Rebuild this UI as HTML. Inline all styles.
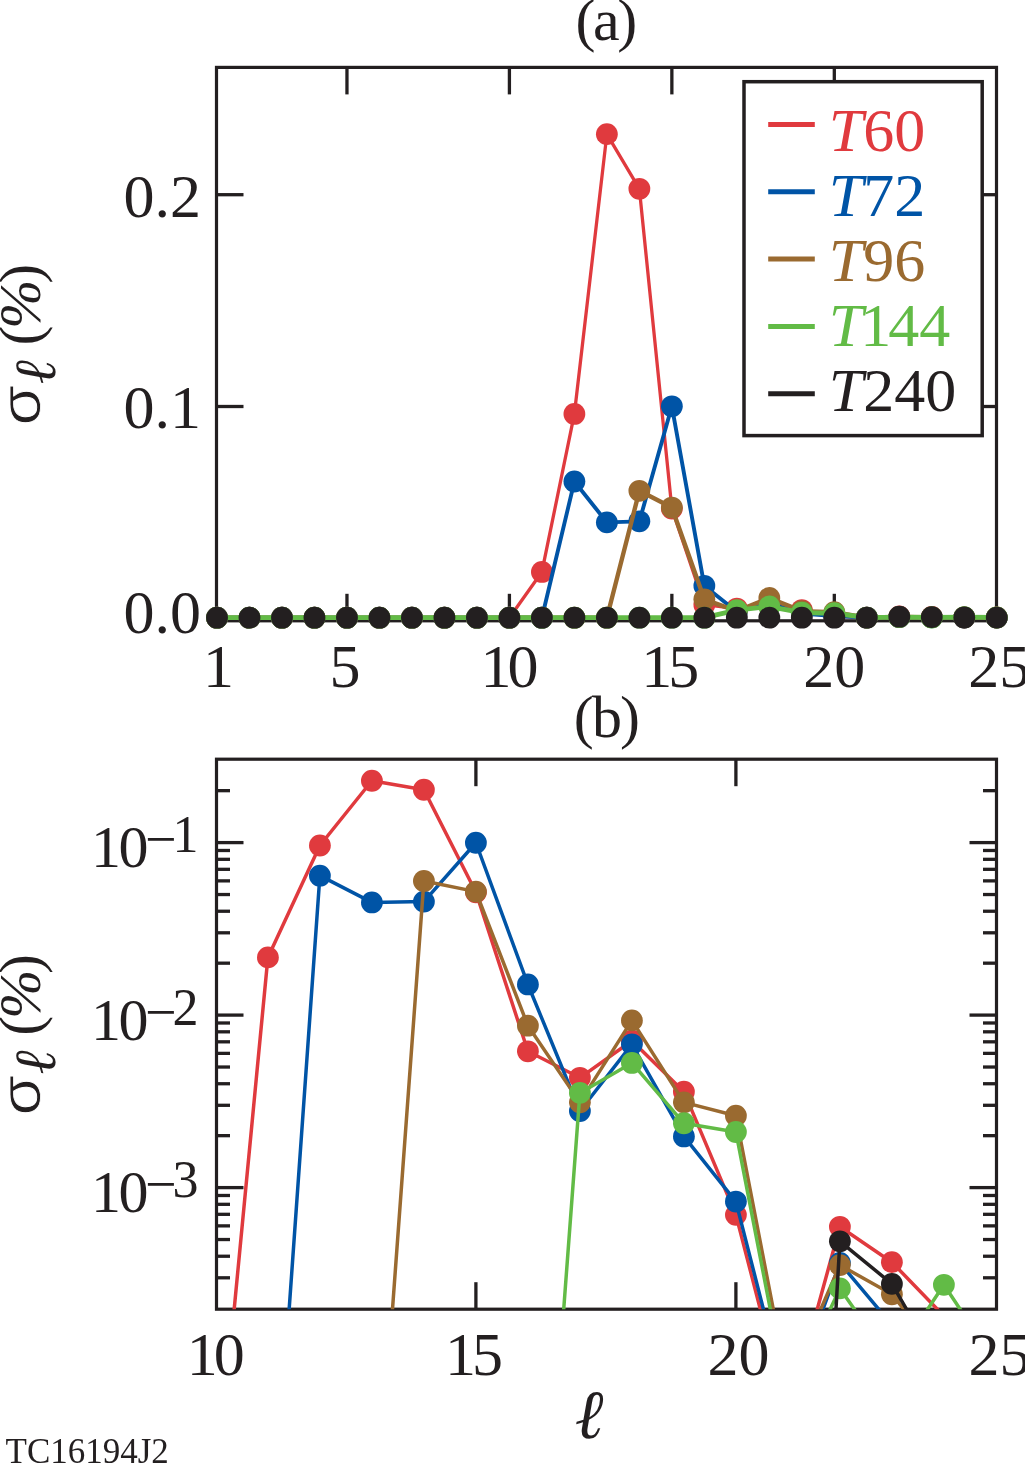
<!DOCTYPE html>
<html lang="en"><head><meta charset="utf-8"><title>TC16194J2</title>
<style>
html,body{margin:0;padding:0;background:#fff;}
svg{display:block;}
text{font-family:"Liberation Serif","DejaVu Serif",serif;fill:#231f20;}
.t{font-size:60px;}
.d{font-size:62px;}
.i{font-style:italic;}
</style></head><body>
<svg width="1025" height="1464" viewBox="0 0 1025 1464">
<defs>
<clipPath id="cb"><rect x="216.5" y="759.2" width="780.0" height="550.0"/></clipPath>
</defs>
<rect width="1025" height="1464" fill="#fff"/>

<g id="panel-a">
<rect x="216.5" y="67.4" width="780.0" height="553.4" fill="none" stroke="#231f20" stroke-width="3.2"/>
<line x1="346.96" y1="67.40" x2="346.96" y2="94.40" stroke="#231f20" stroke-width="3.3"/>
<line x1="346.96" y1="620.80" x2="346.96" y2="593.80" stroke="#231f20" stroke-width="3.3"/>
<line x1="509.41" y1="67.40" x2="509.41" y2="94.40" stroke="#231f20" stroke-width="3.3"/>
<line x1="509.41" y1="620.80" x2="509.41" y2="593.80" stroke="#231f20" stroke-width="3.3"/>
<line x1="671.86" y1="67.40" x2="671.86" y2="94.40" stroke="#231f20" stroke-width="3.3"/>
<line x1="671.86" y1="620.80" x2="671.86" y2="593.80" stroke="#231f20" stroke-width="3.3"/>
<line x1="834.31" y1="67.40" x2="834.31" y2="94.40" stroke="#231f20" stroke-width="3.3"/>
<line x1="834.31" y1="620.80" x2="834.31" y2="593.80" stroke="#231f20" stroke-width="3.3"/>
<line x1="216.50" y1="406.50" x2="243.50" y2="406.50" stroke="#231f20" stroke-width="3.3"/>
<line x1="996.50" y1="406.50" x2="969.50" y2="406.50" stroke="#231f20" stroke-width="3.3"/>
<line x1="216.50" y1="194.70" x2="243.50" y2="194.70" stroke="#231f20" stroke-width="3.3"/>
<line x1="996.50" y1="194.70" x2="969.50" y2="194.70" stroke="#231f20" stroke-width="3.3"/>
<polyline points="217.00,617.70 249.49,617.70 281.98,617.70 314.47,617.70 346.96,617.70 379.45,617.70 411.94,617.70 444.43,617.70 476.92,617.70 509.41,617.70 541.90,571.95 574.39,413.95 606.88,134.16 639.37,188.81 671.86,508.62 704.35,604.63 736.84,608.53 769.33,602.66 801.82,610.08 834.31,616.23 866.80,617.60 899.29,616.44 931.78,616.92 964.27,617.32 996.76,617.51" fill="none" stroke="#e03a3e" stroke-width="3.3" stroke-linejoin="round"/>
<circle cx="217.00" cy="617.70" r="10.9" fill="#e03a3e"/>
<circle cx="249.49" cy="617.70" r="10.9" fill="#e03a3e"/>
<circle cx="281.98" cy="617.70" r="10.9" fill="#e03a3e"/>
<circle cx="314.47" cy="617.70" r="10.9" fill="#e03a3e"/>
<circle cx="346.96" cy="617.70" r="10.9" fill="#e03a3e"/>
<circle cx="379.45" cy="617.70" r="10.9" fill="#e03a3e"/>
<circle cx="411.94" cy="617.70" r="10.9" fill="#e03a3e"/>
<circle cx="444.43" cy="617.70" r="10.9" fill="#e03a3e"/>
<circle cx="476.92" cy="617.70" r="10.9" fill="#e03a3e"/>
<circle cx="509.41" cy="617.70" r="10.9" fill="#e03a3e"/>
<circle cx="541.90" cy="571.95" r="10.9" fill="#e03a3e"/>
<circle cx="574.39" cy="413.95" r="10.9" fill="#e03a3e"/>
<circle cx="606.88" cy="134.16" r="10.9" fill="#e03a3e"/>
<circle cx="639.37" cy="188.81" r="10.9" fill="#e03a3e"/>
<circle cx="671.86" cy="508.62" r="10.9" fill="#e03a3e"/>
<circle cx="704.35" cy="604.63" r="10.9" fill="#e03a3e"/>
<circle cx="736.84" cy="608.53" r="10.9" fill="#e03a3e"/>
<circle cx="769.33" cy="602.66" r="10.9" fill="#e03a3e"/>
<circle cx="801.82" cy="610.08" r="10.9" fill="#e03a3e"/>
<circle cx="834.31" cy="616.23" r="10.9" fill="#e03a3e"/>
<circle cx="866.80" cy="617.60" r="10.9" fill="#e03a3e"/>
<circle cx="899.29" cy="616.44" r="10.9" fill="#e03a3e"/>
<circle cx="931.78" cy="616.92" r="10.9" fill="#e03a3e"/>
<circle cx="964.27" cy="617.32" r="10.9" fill="#e03a3e"/>
<circle cx="996.76" cy="617.51" r="10.9" fill="#e03a3e"/>
<polyline points="217.00,617.70 249.49,617.70 281.98,617.70 314.47,617.70 346.96,617.70 379.45,617.70 411.94,617.70 444.43,617.70 476.92,617.70 509.41,617.70 541.90,617.69 574.39,481.51 606.88,522.39 639.37,521.33 671.86,406.32 704.35,585.82 736.84,611.81 769.33,603.36 801.82,613.51 834.31,615.94 866.80,617.58 899.29,616.93 931.78,617.36 964.27,617.58 996.76,617.64" fill="none" stroke="#0054a6" stroke-width="3.9" stroke-linejoin="round"/>
<circle cx="217.00" cy="617.70" r="10.9" fill="#0054a6"/>
<circle cx="249.49" cy="617.70" r="10.9" fill="#0054a6"/>
<circle cx="281.98" cy="617.70" r="10.9" fill="#0054a6"/>
<circle cx="314.47" cy="617.70" r="10.9" fill="#0054a6"/>
<circle cx="346.96" cy="617.70" r="10.9" fill="#0054a6"/>
<circle cx="379.45" cy="617.70" r="10.9" fill="#0054a6"/>
<circle cx="411.94" cy="617.70" r="10.9" fill="#0054a6"/>
<circle cx="444.43" cy="617.70" r="10.9" fill="#0054a6"/>
<circle cx="476.92" cy="617.70" r="10.9" fill="#0054a6"/>
<circle cx="509.41" cy="617.70" r="10.9" fill="#0054a6"/>
<circle cx="541.90" cy="617.69" r="10.9" fill="#0054a6"/>
<circle cx="574.39" cy="481.51" r="10.9" fill="#0054a6"/>
<circle cx="606.88" cy="522.39" r="10.9" fill="#0054a6"/>
<circle cx="639.37" cy="521.33" r="10.9" fill="#0054a6"/>
<circle cx="671.86" cy="406.32" r="10.9" fill="#0054a6"/>
<circle cx="704.35" cy="585.82" r="10.9" fill="#0054a6"/>
<circle cx="736.84" cy="611.81" r="10.9" fill="#0054a6"/>
<circle cx="769.33" cy="603.36" r="10.9" fill="#0054a6"/>
<circle cx="801.82" cy="613.51" r="10.9" fill="#0054a6"/>
<circle cx="834.31" cy="615.94" r="10.9" fill="#0054a6"/>
<circle cx="866.80" cy="617.58" r="10.9" fill="#0054a6"/>
<circle cx="899.29" cy="616.93" r="10.9" fill="#0054a6"/>
<circle cx="931.78" cy="617.36" r="10.9" fill="#0054a6"/>
<circle cx="964.27" cy="617.58" r="10.9" fill="#0054a6"/>
<circle cx="996.76" cy="617.64" r="10.9" fill="#0054a6"/>
<polyline points="217.00,617.70 249.49,617.70 281.98,617.70 314.47,617.70 346.96,617.70 379.45,617.70 411.94,617.70 444.43,617.70 476.92,617.70 509.41,617.70 541.90,617.70 574.39,617.70 606.88,617.69 639.37,490.83 671.86,507.56 704.35,599.32 736.84,611.09 769.33,597.96 801.82,611.09 834.31,612.17 866.80,617.55 899.29,616.95 931.78,617.19 964.27,617.49 996.76,617.60" fill="none" stroke="#9a6a30" stroke-width="4.4" stroke-linejoin="round"/>
<circle cx="217.00" cy="617.70" r="10.9" fill="#9a6a30"/>
<circle cx="249.49" cy="617.70" r="10.9" fill="#9a6a30"/>
<circle cx="281.98" cy="617.70" r="10.9" fill="#9a6a30"/>
<circle cx="314.47" cy="617.70" r="10.9" fill="#9a6a30"/>
<circle cx="346.96" cy="617.70" r="10.9" fill="#9a6a30"/>
<circle cx="379.45" cy="617.70" r="10.9" fill="#9a6a30"/>
<circle cx="411.94" cy="617.70" r="10.9" fill="#9a6a30"/>
<circle cx="444.43" cy="617.70" r="10.9" fill="#9a6a30"/>
<circle cx="476.92" cy="617.70" r="10.9" fill="#9a6a30"/>
<circle cx="509.41" cy="617.70" r="10.9" fill="#9a6a30"/>
<circle cx="541.90" cy="617.70" r="10.9" fill="#9a6a30"/>
<circle cx="574.39" cy="617.70" r="10.9" fill="#9a6a30"/>
<circle cx="606.88" cy="617.69" r="10.9" fill="#9a6a30"/>
<circle cx="639.37" cy="490.83" r="10.9" fill="#9a6a30"/>
<circle cx="671.86" cy="507.56" r="10.9" fill="#9a6a30"/>
<circle cx="704.35" cy="599.32" r="10.9" fill="#9a6a30"/>
<circle cx="736.84" cy="611.09" r="10.9" fill="#9a6a30"/>
<circle cx="769.33" cy="597.96" r="10.9" fill="#9a6a30"/>
<circle cx="801.82" cy="611.09" r="10.9" fill="#9a6a30"/>
<circle cx="834.31" cy="612.17" r="10.9" fill="#9a6a30"/>
<circle cx="866.80" cy="617.55" r="10.9" fill="#9a6a30"/>
<circle cx="899.29" cy="616.95" r="10.9" fill="#9a6a30"/>
<circle cx="931.78" cy="617.19" r="10.9" fill="#9a6a30"/>
<circle cx="964.27" cy="617.49" r="10.9" fill="#9a6a30"/>
<circle cx="996.76" cy="617.60" r="10.9" fill="#9a6a30"/>
<polyline points="217.00,617.70 249.49,617.70 281.98,617.70 314.47,617.70 346.96,617.70 379.45,617.70 411.94,617.70 444.43,617.70 476.92,617.70 509.41,617.70 541.90,617.70 574.39,617.70 606.88,617.70 639.37,617.70 671.86,617.70 704.35,617.70 736.84,610.20 769.33,606.52 801.82,612.70 834.31,613.25 866.80,617.58 899.29,617.15 931.78,617.50 964.27,617.12 996.76,617.50" fill="none" stroke="#62bb46" stroke-width="4.8" stroke-linejoin="round"/>
<circle cx="217.00" cy="617.70" r="10.9" fill="#62bb46"/>
<circle cx="249.49" cy="617.70" r="10.9" fill="#62bb46"/>
<circle cx="281.98" cy="617.70" r="10.9" fill="#62bb46"/>
<circle cx="314.47" cy="617.70" r="10.9" fill="#62bb46"/>
<circle cx="346.96" cy="617.70" r="10.9" fill="#62bb46"/>
<circle cx="379.45" cy="617.70" r="10.9" fill="#62bb46"/>
<circle cx="411.94" cy="617.70" r="10.9" fill="#62bb46"/>
<circle cx="444.43" cy="617.70" r="10.9" fill="#62bb46"/>
<circle cx="476.92" cy="617.70" r="10.9" fill="#62bb46"/>
<circle cx="509.41" cy="617.70" r="10.9" fill="#62bb46"/>
<circle cx="541.90" cy="617.70" r="10.9" fill="#62bb46"/>
<circle cx="574.39" cy="617.70" r="10.9" fill="#62bb46"/>
<circle cx="606.88" cy="617.70" r="10.9" fill="#62bb46"/>
<circle cx="639.37" cy="617.70" r="10.9" fill="#62bb46"/>
<circle cx="671.86" cy="617.70" r="10.9" fill="#62bb46"/>
<circle cx="704.35" cy="617.70" r="10.9" fill="#62bb46"/>
<circle cx="736.84" cy="610.20" r="10.9" fill="#62bb46"/>
<circle cx="769.33" cy="606.52" r="10.9" fill="#62bb46"/>
<circle cx="801.82" cy="612.70" r="10.9" fill="#62bb46"/>
<circle cx="834.31" cy="613.25" r="10.9" fill="#62bb46"/>
<circle cx="866.80" cy="617.58" r="10.9" fill="#62bb46"/>
<circle cx="899.29" cy="617.15" r="10.9" fill="#62bb46"/>
<circle cx="931.78" cy="617.50" r="10.9" fill="#62bb46"/>
<circle cx="964.27" cy="617.12" r="10.9" fill="#62bb46"/>
<circle cx="996.76" cy="617.50" r="10.9" fill="#62bb46"/>
<circle cx="217.00" cy="617.70" r="10.9" fill="#231f20"/>
<circle cx="249.49" cy="617.70" r="10.9" fill="#231f20"/>
<circle cx="281.98" cy="617.70" r="10.9" fill="#231f20"/>
<circle cx="314.47" cy="617.70" r="10.9" fill="#231f20"/>
<circle cx="346.96" cy="617.70" r="10.9" fill="#231f20"/>
<circle cx="379.45" cy="617.70" r="10.9" fill="#231f20"/>
<circle cx="411.94" cy="617.70" r="10.9" fill="#231f20"/>
<circle cx="444.43" cy="617.70" r="10.9" fill="#231f20"/>
<circle cx="476.92" cy="617.70" r="10.9" fill="#231f20"/>
<circle cx="509.41" cy="617.70" r="10.9" fill="#231f20"/>
<circle cx="541.90" cy="617.70" r="10.9" fill="#231f20"/>
<circle cx="574.39" cy="617.70" r="10.9" fill="#231f20"/>
<circle cx="606.88" cy="617.70" r="10.9" fill="#231f20"/>
<circle cx="639.37" cy="617.70" r="10.9" fill="#231f20"/>
<circle cx="671.86" cy="617.70" r="10.9" fill="#231f20"/>
<circle cx="704.35" cy="617.70" r="10.9" fill="#231f20"/>
<circle cx="736.84" cy="617.70" r="10.9" fill="#231f20"/>
<circle cx="769.33" cy="617.70" r="10.9" fill="#231f20"/>
<circle cx="801.82" cy="617.70" r="10.9" fill="#231f20"/>
<circle cx="834.31" cy="617.70" r="10.9" fill="#231f20"/>
<circle cx="866.80" cy="617.70" r="10.9" fill="#231f20"/>
<circle cx="899.29" cy="616.67" r="10.9" fill="#231f20"/>
<circle cx="931.78" cy="617.11" r="10.9" fill="#231f20"/>
<circle cx="964.27" cy="617.52" r="10.9" fill="#231f20"/>
<circle cx="996.76" cy="617.64" r="10.9" fill="#231f20"/>
<rect x="744.0" y="81.7" width="238.20000000000005" height="353.90000000000003" fill="#fff" stroke="#231f20" stroke-width="3.5"/>
<line x1="768.20" y1="124.50" x2="814.80" y2="124.50" stroke="#e03a3e" stroke-width="5.0"/>
<text class="d" x="828.8" y="150.7" style="fill:#e03a3e"><tspan class="i">T</tspan>60</text>
<line x1="768.20" y1="191.80" x2="814.80" y2="191.80" stroke="#0054a6" stroke-width="5.0"/>
<text class="d" x="828.8" y="215.8" style="fill:#0054a6"><tspan class="i">T</tspan>72</text>
<line x1="768.20" y1="259.10" x2="814.80" y2="259.10" stroke="#9a6a30" stroke-width="5.0"/>
<text class="d" x="828.8" y="280.8" style="fill:#9a6a30"><tspan class="i">T</tspan>96</text>
<line x1="768.20" y1="326.40" x2="814.80" y2="326.40" stroke="#62bb46" stroke-width="5.0"/>
<text class="d" x="828.8" y="345.8" style="fill:#62bb46"><tspan class="i">T</tspan><tspan dx="-3">1</tspan><tspan dx="-3">4</tspan>4</text>
<line x1="768.20" y1="393.70" x2="814.80" y2="393.70" stroke="#231f20" stroke-width="5.0"/>
<text class="d" x="828.8" y="410.9" style="fill:#231f20"><tspan class="i">T</tspan>240</text>
<text class="d" x="162.2" y="633.2" text-anchor="middle">0.0</text>
<text class="d" x="162.2" y="427.7" text-anchor="middle">0.1</text>
<text class="d" x="162.2" y="217.4" text-anchor="middle">0.2</text>
<text class="d" x="218.4" y="686.6" text-anchor="middle">1</text>
<text class="d" x="345.0" y="686.6" text-anchor="middle">5</text>
<text class="d" x="480.45" y="686.6" letter-spacing="-4">10</text>
<text class="d" x="641.15" y="686.6" letter-spacing="-4">15</text>
<text class="d" x="834.3" y="686.6" text-anchor="middle">20</text>
<text class="d" x="999.2" y="686.6" text-anchor="middle">25</text>
<text class="t" x="605.2" y="40" text-anchor="middle" letter-spacing="-2.4">(a)</text>
<g transform="translate(40.2,344.1) rotate(-90)">
<text transform="translate(-81.3,0) scale(1.13,1)" style="font-family:'Liberation Sans','DejaVu Sans',sans-serif;font-size:58px;stroke:#fff;stroke-width:0.8px">σ</text>
<text class="i" x="-40.2" y="15.2" font-size="58">ℓ</text>
<text class="t" x="-1.5" y="0">(</text>
<text class="t i" transform="translate(15.4,0) scale(0.98,1)">%</text>
<text class="t" x="60.3" y="0">)</text>
</g>
</g>
<g id="panel-b">
<rect x="216.5" y="759.2" width="780.0" height="550.0" fill="none" stroke="#231f20" stroke-width="3.2"/>
<line x1="475.90" y1="759.20" x2="475.90" y2="786.20" stroke="#231f20" stroke-width="3.3"/>
<line x1="475.90" y1="1309.20" x2="475.90" y2="1282.20" stroke="#231f20" stroke-width="3.3"/>
<line x1="735.90" y1="759.20" x2="735.90" y2="786.20" stroke="#231f20" stroke-width="3.3"/>
<line x1="735.90" y1="1309.20" x2="735.90" y2="1282.20" stroke="#231f20" stroke-width="3.3"/>
<line x1="216.50" y1="842.60" x2="243.50" y2="842.60" stroke="#231f20" stroke-width="3.3"/>
<line x1="996.50" y1="842.60" x2="969.50" y2="842.60" stroke="#231f20" stroke-width="3.3"/>
<line x1="216.50" y1="1015.10" x2="243.50" y2="1015.10" stroke="#231f20" stroke-width="3.3"/>
<line x1="996.50" y1="1015.10" x2="969.50" y2="1015.10" stroke="#231f20" stroke-width="3.3"/>
<line x1="216.50" y1="1187.60" x2="243.50" y2="1187.60" stroke="#231f20" stroke-width="3.3"/>
<line x1="996.50" y1="1187.60" x2="969.50" y2="1187.60" stroke="#231f20" stroke-width="3.3"/>
<line x1="216.50" y1="1277.80" x2="230.00" y2="1277.80" stroke="#231f20" stroke-width="3.3"/>
<line x1="996.50" y1="1277.80" x2="983.00" y2="1277.80" stroke="#231f20" stroke-width="3.3"/>
<line x1="216.50" y1="1256.24" x2="230.00" y2="1256.24" stroke="#231f20" stroke-width="3.3"/>
<line x1="996.50" y1="1256.24" x2="983.00" y2="1256.24" stroke="#231f20" stroke-width="3.3"/>
<line x1="216.50" y1="1239.53" x2="230.00" y2="1239.53" stroke="#231f20" stroke-width="3.3"/>
<line x1="996.50" y1="1239.53" x2="983.00" y2="1239.53" stroke="#231f20" stroke-width="3.3"/>
<line x1="216.50" y1="1225.87" x2="230.00" y2="1225.87" stroke="#231f20" stroke-width="3.3"/>
<line x1="996.50" y1="1225.87" x2="983.00" y2="1225.87" stroke="#231f20" stroke-width="3.3"/>
<line x1="216.50" y1="1214.32" x2="230.00" y2="1214.32" stroke="#231f20" stroke-width="3.3"/>
<line x1="996.50" y1="1214.32" x2="983.00" y2="1214.32" stroke="#231f20" stroke-width="3.3"/>
<line x1="216.50" y1="1204.32" x2="230.00" y2="1204.32" stroke="#231f20" stroke-width="3.3"/>
<line x1="996.50" y1="1204.32" x2="983.00" y2="1204.32" stroke="#231f20" stroke-width="3.3"/>
<line x1="216.50" y1="1195.49" x2="230.00" y2="1195.49" stroke="#231f20" stroke-width="3.3"/>
<line x1="996.50" y1="1195.49" x2="983.00" y2="1195.49" stroke="#231f20" stroke-width="3.3"/>
<line x1="216.50" y1="1135.67" x2="230.00" y2="1135.67" stroke="#231f20" stroke-width="3.3"/>
<line x1="996.50" y1="1135.67" x2="983.00" y2="1135.67" stroke="#231f20" stroke-width="3.3"/>
<line x1="216.50" y1="1105.30" x2="230.00" y2="1105.30" stroke="#231f20" stroke-width="3.3"/>
<line x1="996.50" y1="1105.30" x2="983.00" y2="1105.30" stroke="#231f20" stroke-width="3.3"/>
<line x1="216.50" y1="1083.74" x2="230.00" y2="1083.74" stroke="#231f20" stroke-width="3.3"/>
<line x1="996.50" y1="1083.74" x2="983.00" y2="1083.74" stroke="#231f20" stroke-width="3.3"/>
<line x1="216.50" y1="1067.03" x2="230.00" y2="1067.03" stroke="#231f20" stroke-width="3.3"/>
<line x1="996.50" y1="1067.03" x2="983.00" y2="1067.03" stroke="#231f20" stroke-width="3.3"/>
<line x1="216.50" y1="1053.37" x2="230.00" y2="1053.37" stroke="#231f20" stroke-width="3.3"/>
<line x1="996.50" y1="1053.37" x2="983.00" y2="1053.37" stroke="#231f20" stroke-width="3.3"/>
<line x1="216.50" y1="1041.82" x2="230.00" y2="1041.82" stroke="#231f20" stroke-width="3.3"/>
<line x1="996.50" y1="1041.82" x2="983.00" y2="1041.82" stroke="#231f20" stroke-width="3.3"/>
<line x1="216.50" y1="1031.82" x2="230.00" y2="1031.82" stroke="#231f20" stroke-width="3.3"/>
<line x1="996.50" y1="1031.82" x2="983.00" y2="1031.82" stroke="#231f20" stroke-width="3.3"/>
<line x1="216.50" y1="1022.99" x2="230.00" y2="1022.99" stroke="#231f20" stroke-width="3.3"/>
<line x1="996.50" y1="1022.99" x2="983.00" y2="1022.99" stroke="#231f20" stroke-width="3.3"/>
<line x1="216.50" y1="963.17" x2="230.00" y2="963.17" stroke="#231f20" stroke-width="3.3"/>
<line x1="996.50" y1="963.17" x2="983.00" y2="963.17" stroke="#231f20" stroke-width="3.3"/>
<line x1="216.50" y1="932.80" x2="230.00" y2="932.80" stroke="#231f20" stroke-width="3.3"/>
<line x1="996.50" y1="932.80" x2="983.00" y2="932.80" stroke="#231f20" stroke-width="3.3"/>
<line x1="216.50" y1="911.24" x2="230.00" y2="911.24" stroke="#231f20" stroke-width="3.3"/>
<line x1="996.50" y1="911.24" x2="983.00" y2="911.24" stroke="#231f20" stroke-width="3.3"/>
<line x1="216.50" y1="894.53" x2="230.00" y2="894.53" stroke="#231f20" stroke-width="3.3"/>
<line x1="996.50" y1="894.53" x2="983.00" y2="894.53" stroke="#231f20" stroke-width="3.3"/>
<line x1="216.50" y1="880.87" x2="230.00" y2="880.87" stroke="#231f20" stroke-width="3.3"/>
<line x1="996.50" y1="880.87" x2="983.00" y2="880.87" stroke="#231f20" stroke-width="3.3"/>
<line x1="216.50" y1="869.32" x2="230.00" y2="869.32" stroke="#231f20" stroke-width="3.3"/>
<line x1="996.50" y1="869.32" x2="983.00" y2="869.32" stroke="#231f20" stroke-width="3.3"/>
<line x1="216.50" y1="859.32" x2="230.00" y2="859.32" stroke="#231f20" stroke-width="3.3"/>
<line x1="996.50" y1="859.32" x2="983.00" y2="859.32" stroke="#231f20" stroke-width="3.3"/>
<line x1="216.50" y1="850.49" x2="230.00" y2="850.49" stroke="#231f20" stroke-width="3.3"/>
<line x1="996.50" y1="850.49" x2="983.00" y2="850.49" stroke="#231f20" stroke-width="3.3"/>
<line x1="216.50" y1="790.67" x2="230.00" y2="790.67" stroke="#231f20" stroke-width="3.3"/>
<line x1="996.50" y1="790.67" x2="983.00" y2="790.67" stroke="#231f20" stroke-width="3.3"/>
<g clip-path="url(#cb)">
<polyline points="215.90,1500.00 267.90,957.41 319.90,845.50 371.90,780.76 423.90,789.74 475.90,892.31 527.90,1051.28 579.90,1077.81 631.90,1040.76 683.90,1091.64 735.90,1214.86 787.90,1416.00 839.90,1226.80 891.90,1262.20 943.90,1316.00 995.90,1370.00" fill="none" stroke="#e03a3e" stroke-width="3.5" stroke-linejoin="round"/>
<circle cx="267.90" cy="957.41" r="10.9" fill="#e03a3e"/>
<circle cx="319.90" cy="845.50" r="10.9" fill="#e03a3e"/>
<circle cx="371.90" cy="780.76" r="10.9" fill="#e03a3e"/>
<circle cx="423.90" cy="789.74" r="10.9" fill="#e03a3e"/>
<circle cx="475.90" cy="892.31" r="10.9" fill="#e03a3e"/>
<circle cx="527.90" cy="1051.28" r="10.9" fill="#e03a3e"/>
<circle cx="579.90" cy="1077.81" r="10.9" fill="#e03a3e"/>
<circle cx="631.90" cy="1040.76" r="10.9" fill="#e03a3e"/>
<circle cx="683.90" cy="1091.64" r="10.9" fill="#e03a3e"/>
<circle cx="735.90" cy="1214.86" r="10.9" fill="#e03a3e"/>
<circle cx="839.90" cy="1226.80" r="10.9" fill="#e03a3e"/>
<circle cx="891.90" cy="1262.20" r="10.9" fill="#e03a3e"/>
<polyline points="267.90,1609.00 319.90,875.68 371.90,902.42 423.90,901.59 475.90,842.75 527.90,984.47 579.90,1111.00 631.90,1044.32 683.90,1136.43 735.90,1201.56 787.90,1405.00 839.90,1263.00 891.90,1324.90 943.90,1400.00 995.90,1450.00" fill="none" stroke="#0054a6" stroke-width="3.5" stroke-linejoin="round"/>
<circle cx="319.90" cy="875.68" r="10.9" fill="#0054a6"/>
<circle cx="371.90" cy="902.42" r="10.9" fill="#0054a6"/>
<circle cx="423.90" cy="901.59" r="10.9" fill="#0054a6"/>
<circle cx="475.90" cy="842.75" r="10.9" fill="#0054a6"/>
<circle cx="527.90" cy="984.47" r="10.9" fill="#0054a6"/>
<circle cx="579.90" cy="1111.00" r="10.9" fill="#0054a6"/>
<circle cx="631.90" cy="1044.32" r="10.9" fill="#0054a6"/>
<circle cx="683.90" cy="1136.43" r="10.9" fill="#0054a6"/>
<circle cx="735.90" cy="1201.56" r="10.9" fill="#0054a6"/>
<circle cx="839.90" cy="1263.00" r="10.9" fill="#0054a6"/>
<polyline points="371.90,1590.00 423.90,880.99 475.90,891.59 527.90,1025.71 579.90,1102.36 631.90,1020.38 683.90,1102.36 735.90,1115.73 787.90,1385.00 839.90,1265.10 891.90,1294.30 943.90,1359.00 995.90,1420.00" fill="none" stroke="#9a6a30" stroke-width="3.5" stroke-linejoin="round"/>
<circle cx="423.90" cy="880.99" r="10.9" fill="#9a6a30"/>
<circle cx="475.90" cy="891.59" r="10.9" fill="#9a6a30"/>
<circle cx="527.90" cy="1025.71" r="10.9" fill="#9a6a30"/>
<circle cx="579.90" cy="1102.36" r="10.9" fill="#9a6a30"/>
<circle cx="631.90" cy="1020.38" r="10.9" fill="#9a6a30"/>
<circle cx="683.90" cy="1102.36" r="10.9" fill="#9a6a30"/>
<circle cx="735.90" cy="1115.73" r="10.9" fill="#9a6a30"/>
<circle cx="839.90" cy="1265.10" r="10.9" fill="#9a6a30"/>
<circle cx="891.90" cy="1294.30" r="10.9" fill="#9a6a30"/>
<polyline points="527.90,1788.00 579.90,1092.90 631.90,1062.95 683.90,1123.27 735.90,1132.02 787.90,1400.00 839.90,1288.40 891.90,1363.00 943.90,1284.80 995.90,1363.00" fill="none" stroke="#62bb46" stroke-width="3.5" stroke-linejoin="round"/>
<circle cx="579.90" cy="1092.90" r="10.9" fill="#62bb46"/>
<circle cx="631.90" cy="1062.95" r="10.9" fill="#62bb46"/>
<circle cx="683.90" cy="1123.27" r="10.9" fill="#62bb46"/>
<circle cx="735.90" cy="1132.02" r="10.9" fill="#62bb46"/>
<circle cx="839.90" cy="1288.40" r="10.9" fill="#62bb46"/>
<circle cx="943.90" cy="1284.80" r="10.9" fill="#62bb46"/>
<polyline points="787.90,2138.00 839.90,1241.30 891.90,1283.90 943.90,1374.00 995.90,1450.00" fill="none" stroke="#231f20" stroke-width="3.5" stroke-linejoin="round"/>
<circle cx="839.90" cy="1241.30" r="10.9" fill="#231f20"/>
<circle cx="891.90" cy="1283.90" r="10.9" fill="#231f20"/>
</g>
<text class="t" x="91" y="867.4" letter-spacing="-2.5">10</text>
<text x="145" y="858.1" font-size="56">−</text><text x="172.6" y="852.4" font-size="52">1</text>
<text class="t" x="91" y="1039.9" letter-spacing="-2.5">10</text>
<text x="145" y="1030.6" font-size="56">−</text><text x="172.6" y="1024.9" font-size="52">2</text>
<text class="t" x="91" y="1212.4" letter-spacing="-2.5">10</text>
<text x="145" y="1203.1" font-size="56">−</text><text x="172.6" y="1197.4" font-size="52">3</text>
<text class="d" x="186.75" y="1375.2" letter-spacing="-4">10</text>
<text class="d" x="445.05" y="1375.2" letter-spacing="-4">15</text>
<text class="d" x="738.4" y="1375.2" text-anchor="middle">20</text>
<text class="d" x="999.4" y="1375.2" text-anchor="middle">25</text>
<text class="t" x="606.0" y="736.7" text-anchor="middle" letter-spacing="-1.8">(b)</text>
<g transform="translate(40.2,1034.2) rotate(-90)">
<text transform="translate(-81.3,0) scale(1.13,1)" style="font-family:'Liberation Sans','DejaVu Sans',sans-serif;font-size:58px;stroke:#fff;stroke-width:0.8px">σ</text>
<text class="i" x="-40.2" y="15.2" font-size="58">ℓ</text>
<text class="t" x="-1.5" y="0">(</text>
<text class="t i" transform="translate(15.4,0) scale(0.98,1)">%</text>
<text class="t" x="60.3" y="0">)</text>
</g>
<text class="i" x="574.8" y="1437.6" font-size="69">ℓ</text>
</g>
<text x="5.5" y="1462.5" font-size="35">TC16194J2</text>
</svg></body></html>
